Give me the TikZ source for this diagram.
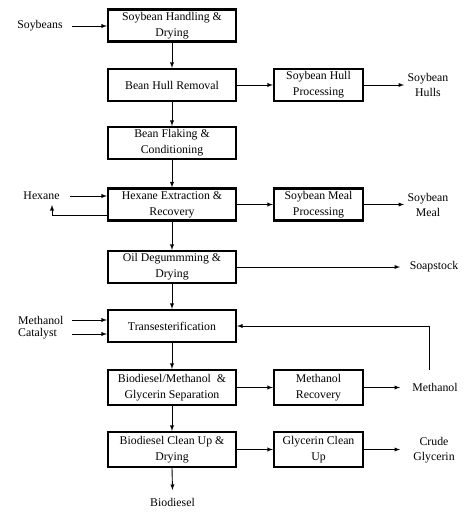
\documentclass[tikz,border=0pt]{standalone}
\usepackage{fontspec}
\setmainfont{Liberation Serif}
\usetikzlibrary{
    arrows,
    calc,
    positioning
}

\begin{document}
\begin{tikzpicture}[x=1pt, y=-1pt,
    stage/.style={draw, line width=2.2pt, minimum width=128pt, minimum height=32pt, inner sep=1pt, align=center, font=\fontsize{11.8}{16}\selectfont},
    side/.style={stage, minimum width=89pt},
    stream/.style={inner sep=0pt, align=center, font=\fontsize{11.8}{15}\selectfont},
    flow/.style={-latex, line width=0.9pt}]
    \useasboundingbox (0, 0) rectangle (474, 516);
    % main line
    \node[stage] (handling) at (172, 25.5) {Soybean Handling \&\\Drying};
    \node[stage] (hull) at (172, 85) {Bean Hull Removal};
    \node[stage] (flaking) at (172, 143) {Bean Flaking \&\\Conditioning};
    \node[stage] (extraction) at (172, 204.5) {Hexane Extraction \&\\Recovery};
    \node[stage] (degum) at (172, 267) {Oil Degummming \&\\Drying};
    \node[stage] (trans) at (172, 326) {Transesterification};
    \node[stage, minimum height=35pt] (separation) at (172, 387.5) {Biodiesel/Methanol~~\&\\Glycerin Separation};
    \node[stage, minimum height=35pt] (cleanup) at (172, 449.5) {Biodiesel Clean Up \&\\Drying};
    % side units
    \node[side] (hullproc) at (318.5, 85) {Soybean Hull\\Processing};
    \node[side] (mealproc) at (318.5, 204.5) {Soybean Meal\\Processing};
    \node[side, minimum height=35pt] (meohrec) at (318.5, 387.5) {Methanol\\Recovery};
    \node[side, minimum height=35pt] (glycclean) at (318.5, 449.5) {Glycerin Clean\\Up};
    % streams
    \node[stream] (soybeans) at (40, 26) {Soybeans};
    \node[stream] (hulls) at (428, 85) {Soybean\\Hulls};
    \node[stream] (hexane) at (41.5, 196) {Hexane};
    \node[stream] (meal) at (428, 205) {Soybean\\Meal};
    \node[stream] (soapstock) at (434, 267) {Soapstock};
    \node[stream, anchor=west] (methanol) at (18, 320) {Methanol};
    \node[stream, anchor=west] (catalyst) at (18, 334) {Catalyst};
    \node[stream] (meohout) at (435, 387) {Methanol};
    \node[stream] (glycerin) at (434, 450) {Crude\\Glycerin};
    \node[stream] (biodiesel) at (172.5, 502) {Biodiesel};
    % free ends
    \coordinate (soyin) at (72, 26);
    \coordinate (hexin) at (70, 196);
    \coordinate (hexret) at (52, 205);
    \coordinate (meohin) at (72, 320);
    \coordinate (catin) at (72, 334);
    \coordinate (hullsend) at (404, 85);
    \coordinate (mealend) at (404, 204.5);
    \coordinate (soapend) at (400, 267);
    \coordinate (meohend) at (400, 387.5);
    \coordinate (glycend) at (400, 449.5);
    \coordinate (recycle) at (429, 370);
    \coordinate (bioend) at (172.5, 490);
    % connectors
    \draw[flow] (soyin) -- (soyin -| handling.west);
    \draw[flow] (handling) -- (hull);
    \draw[flow] (hull) -- (flaking);
    \draw[flow] (flaking) -- (extraction);
    \draw[flow] (extraction) -- (degum);
    \draw[flow] (degum) -- (trans);
    \draw[flow] (trans) -- (separation);
    \draw[flow] (separation) -- (cleanup);
    \draw[flow] (cleanup.south) -- (bioend);
    \draw[flow] (hull) -- (hullproc);
    \draw[flow] (hullproc.east) -- (hullsend);
    \draw[flow] (extraction) -- (mealproc);
    \draw[flow] (mealproc.east) -- (mealend);
    \draw[flow] (hexin) -- (hexin -| extraction.west);
    \draw[flow] ([yshift=-10.5pt]extraction.west) -| (hexret);
    \draw[flow] (degum.east) -- (soapend);
    \draw[flow] (meohin) -- (meohin -| trans.west);
    \draw[flow] (catin) -- (catin -| trans.west);
    \draw[flow] (separation) -- (meohrec);
    \draw[flow] (meohrec.east) -- (meohend);
    \draw[flow] (recycle) |- (trans.east);
    \draw[flow] (cleanup) -- (glycclean);
    \draw[flow] (glycclean.east) -- (glycend);
\end{tikzpicture}
\end{document}
